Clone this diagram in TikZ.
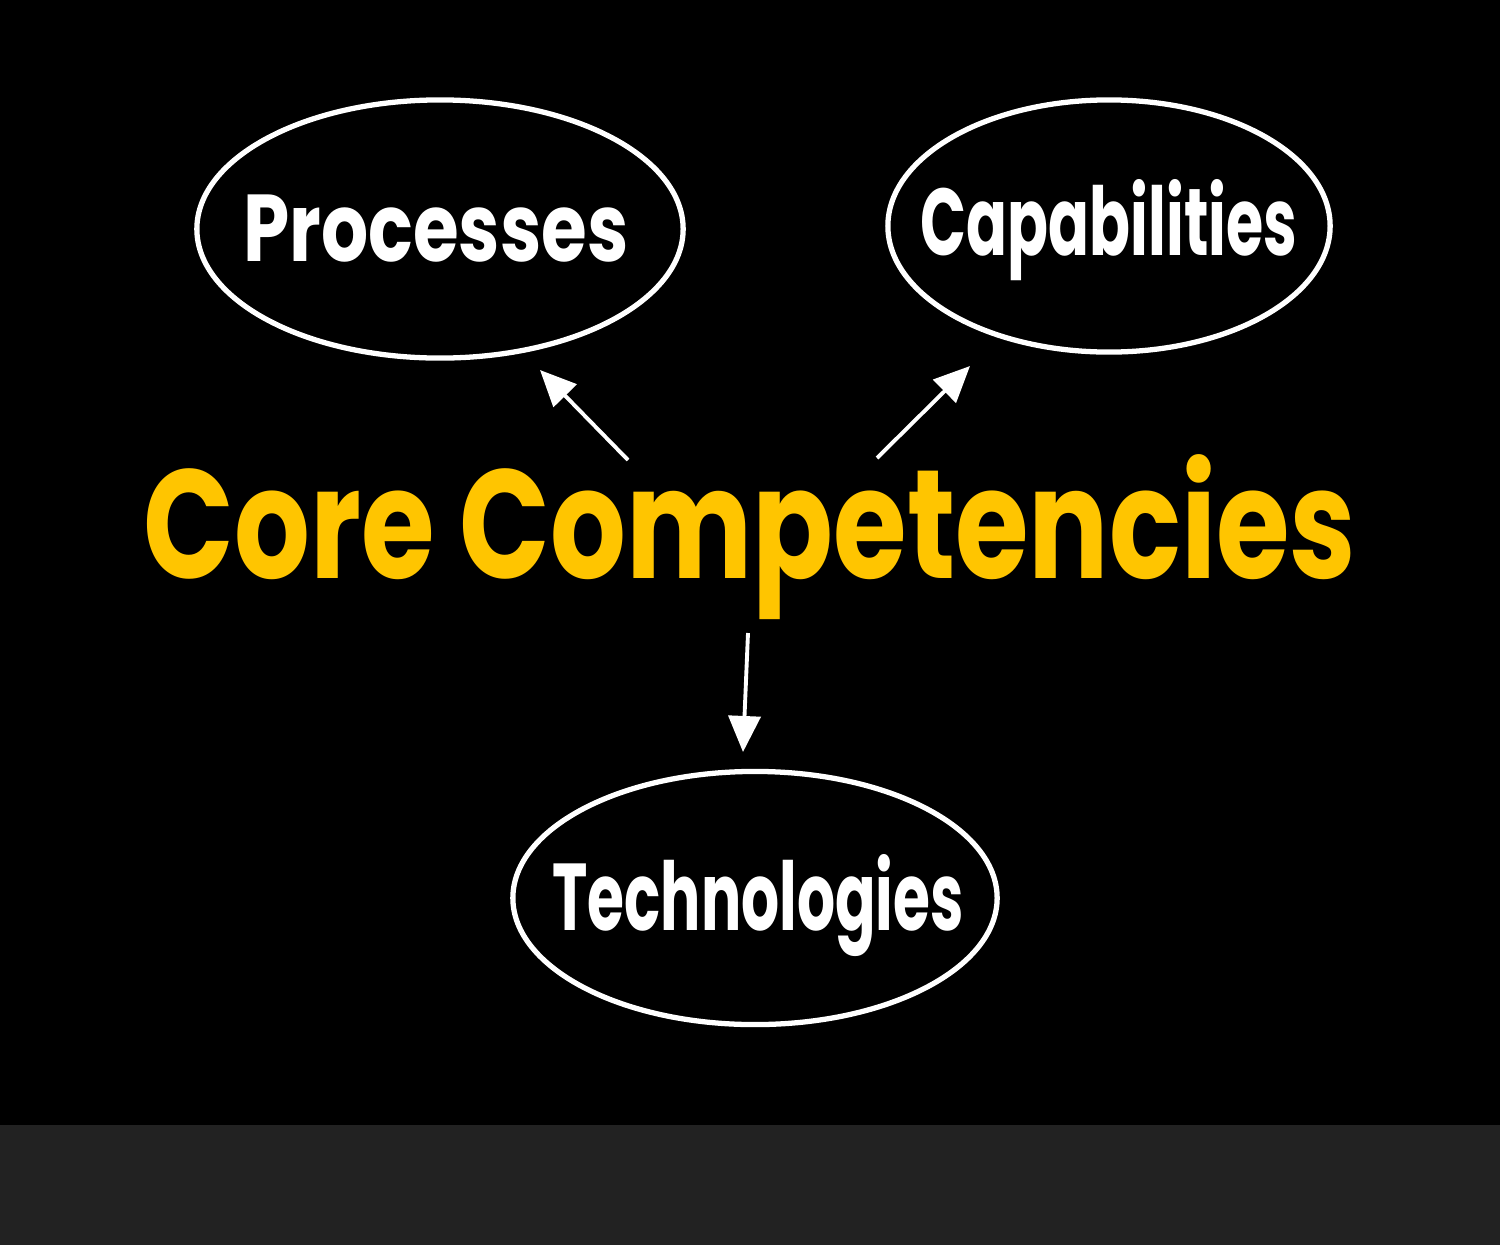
\documentclass[tikz,border=0pt]{standalone}
\usepackage{fontspec}
\setmainfont{Poppins}
\usetikzlibrary{shapes,shapes.geometric,arrows.meta,calc}
\definecolor{coreyellow}{RGB}{255,197,0}
\definecolor{barbg}{RGB}{34,34,34}
\tikzset{
  idea_n/.style = {ellipse, draw=white, line width=1.5pt, inner sep=0pt},
  idea_t/.style = {text=white, inner sep=0pt,
    font=\fontsize{27}{32}\selectfont\bfseries\addfontfeatures{FakeStretch=#1}},
  core_t/.style = {text=coreyellow, inner sep=0pt, anchor=base,
    font=\fontsize{44}{52}\selectfont\bfseries\addfontfeatures{FakeStretch=0.77}},
  arr/.style = {draw=white, line width=1.1pt,
    -{Triangle[length=0.36cm, width=0.32cm]}}
}

\begin{document}
\begin{tikzpicture}[x=0.01cm, y=-0.01cm]
	\useasboundingbox (0,0) rectangle (1500,1245);
	\fill[black] (0,0) rectangle (1500,1125);
	\fill[barbg] (0,1125) rectangle (1500,1245);

	\node [core_t] (core) at (750,578) {Core Competencies};

	\node [idea_n, minimum width=4.86cm, minimum height=2.58cm] (proc) at (440,229) {};
	\node [idea_n, minimum width=4.42cm, minimum height=2.52cm] (capa) at (1109,226) {};
	\node [idea_n, minimum width=4.84cm, minimum height=2.53cm] (tech) at (755,898) {};

	\node [idea_t=0.78] (proc_t) at ($(proc.center)+(-4,0)$) {Processes};
	\node [idea_t=0.635] (capa_t) at ($(capa.center)+(0,4)$) {Capabilities};
	\node [idea_t=0.63] (tech_t) at ($(tech.center)+(3,8)$) {Technologies};

	% arrow ends
	\coordinate (proc_from) at (628,460);
	\coordinate (proc_to) at (540,370);
	\coordinate (capa_from) at (877,458);
	\coordinate (capa_to) at (970,366);
	\coordinate (tech_from) at (748,633);
	\coordinate (tech_to) at (743,752);

	\draw [arr] (proc_from) -- (proc_to);
	\draw [arr] (capa_from) -- (capa_to);
	\draw [arr] (tech_from) -- (tech_to);
\end{tikzpicture}
\end{document}
